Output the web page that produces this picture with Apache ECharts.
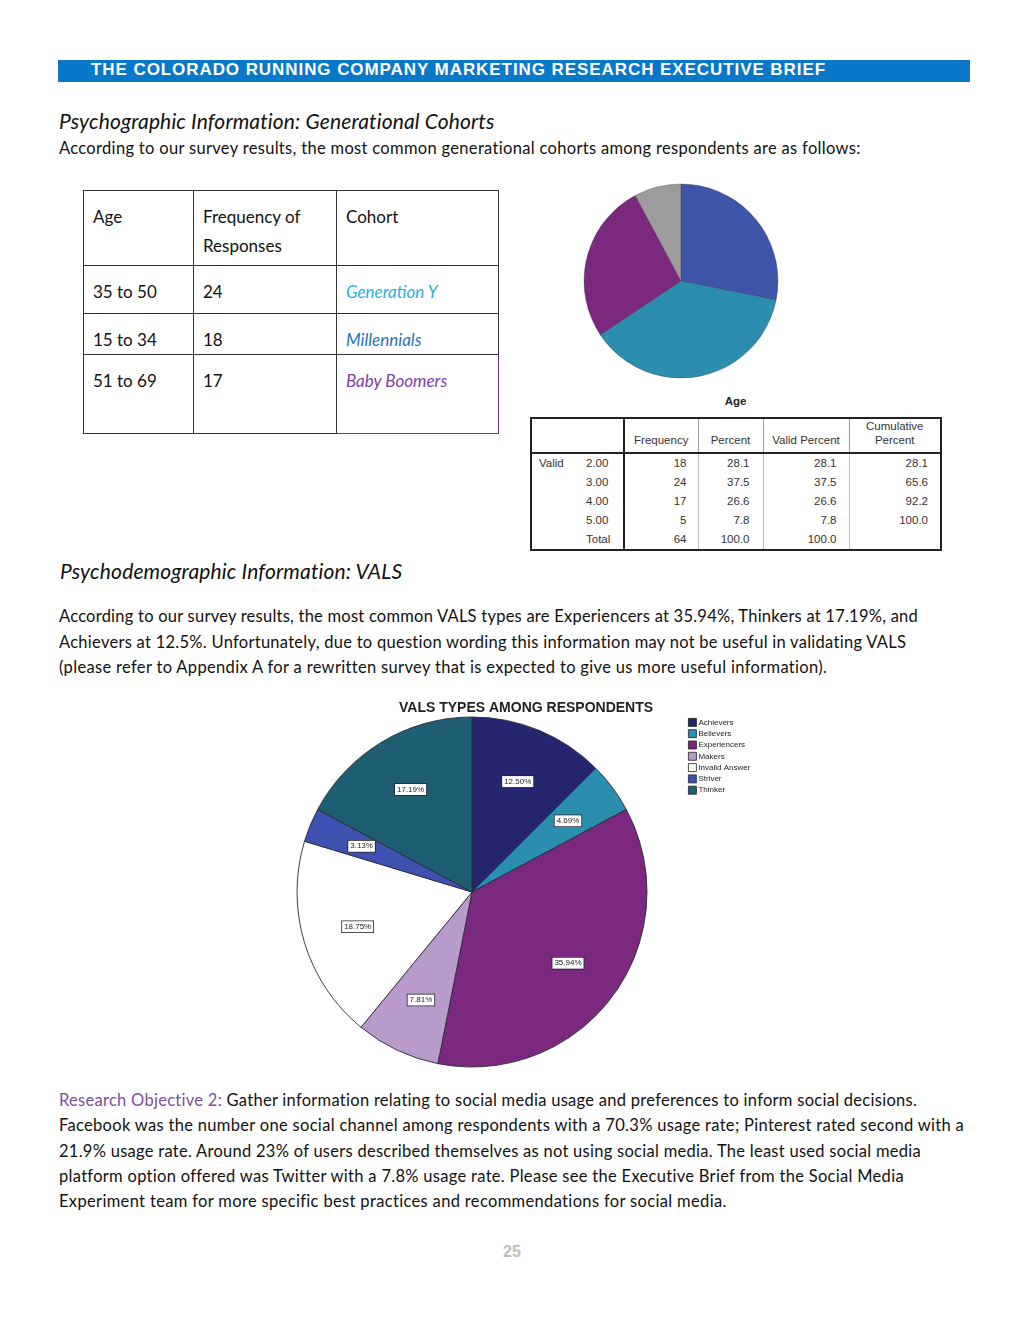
<!DOCTYPE html>
<html><head><meta charset="utf-8">
<script src="https://cdn.jsdelivr.net/npm/echarts@6/dist/echarts.min.js"></script>
<style>
html,body{margin:0;padding:0;background:#fff}
body{width:1024px;height:1326px;position:relative;overflow:hidden;font-family:Lato,'Open Sans',sans-serif;color:#111}
.ab{position:absolute;white-space:nowrap}
.line{font-size:16.5px;line-height:20px;height:20px}
.h2{font-size:21px;line-height:26px;font-style:italic}
#bar{left:58px;top:60px;width:912px;height:22px;background:#0A78C8}
#bartext{left:91px;top:60px;line-height:22px;color:#fff;font:bold 17px 'Liberation Sans',Arial,sans-serif}
table{border-collapse:collapse;table-layout:fixed}
#t1{left:83px;top:190px;font-size:17px}
#t1 td{border:1px solid #333;vertical-align:top;padding:11px 0 0 9px;line-height:29px;box-sizing:border-box}
#t2title{left:530px;width:411px;top:395px;text-align:center;font:bold 11.5px 'Liberation Sans',Arial,sans-serif;color:#222}
#t2{left:530px;top:417px;font:11.5px 'Liberation Sans',Arial,sans-serif;color:#333;border:2px solid #222}
#t2 td{padding:0;box-sizing:border-box;height:19px;line-height:19px}
#t2 .hd td{height:33px;vertical-align:bottom;line-height:14px;padding-bottom:5px;text-align:center;border-bottom:2px solid #222}
#t2 .num{text-align:right;padding-right:11px;border-left:1px solid #bbb}
#t2 .hd td.cb{border-left:1px solid #999}
#t2 .sep{border-left:2px solid #222 !important}
</style></head>
<body>
<div id="bar" class="ab"></div>
<div id="bartext" class="ab fit" data-w="735">THE COLORADO RUNNING COMPANY MARKETING RESEARCH EXECUTIVE BRIEF</div>

<div class="ab h2 fit" style="left:59px;top:108px" data-w="435">Psychographic Information: Generational Cohorts</div>
<div class="ab line fit" style="left:59px;top:138px" data-w="802">According to our survey results, the most common generational cohorts among respondents are as follows:</div>

<table id="t1" class="ab"><colgroup><col style="width:110px"><col style="width:143px"><col style="width:162px"></colgroup><tbody id="t1body"></tbody></table>

<div id="pieAge" class="ab" style="left:570px;top:180px;width:222px;height:206px"></div>

<div id="t2title" class="ab">Age</div>
<table id="t2" class="ab"><colgroup><col style="width:48px"><col style="width:45px"><col style="width:74px"><col style="width:65px"><col style="width:86px"><col style="width:92px"></colgroup><tbody id="t2body"></tbody></table>

<div class="ab h2 fit" style="left:60px;top:558px" data-w="342">Psychodemographic Information: VALS</div>
<div class="ab line fit" style="left:59px;top:606px" data-w="859">According to our survey results, the most common VALS types are Experiencers at 35.94%, Thinkers at 17.19%, and</div>
<div class="ab line fit" style="left:59px;top:632px" data-w="848">Achievers at 12.5%. Unfortunately, due to question wording this information may not be useful in validating VALS</div>
<div class="ab line fit" style="left:59px;top:657px" data-w="768">(please refer to Appendix A for a rewritten survey that is expected to give us more useful information).</div>

<div id="pieVals" class="ab" style="left:290px;top:690px;width:500px;height:392px"></div>

<div class="ab line fit" style="left:59px;top:1090px" data-w="859"><span style="color:#7B4F9E">Research Objective 2:</span> Gather information relating to social media usage and preferences to inform social decisions.</div>
<div class="ab line fit" style="left:59px;top:1115px" data-w="905">Facebook was the number one social channel among respondents with a 70.3% usage rate; Pinterest rated second with a</div>
<div class="ab line fit" style="left:59px;top:1141px" data-w="862">21.9% usage rate. Around 23% of users described themselves as not using social media. The least used social media</div>
<div class="ab line fit" style="left:59px;top:1166px" data-w="844">platform option offered was Twitter with a 7.8% usage rate. Please see the Executive Brief from the Social Media</div>
<div class="ab line fit" style="left:59px;top:1191px" data-w="668">Experiment team for more specific best practices and recommendations for social media.</div>

<div class="ab" style="left:492px;width:40px;text-align:center;top:1243px;line-height:20px;font:bold 16px 'Liberation Sans',Arial,sans-serif;color:#BDBDBD">25</div>

<script>
// ---- Data ----
const cohortAges = ['35 to 50', '15 to 34', '51 to 69'];
const cohortFrequency = [24, 18, 17];
const cohortNames = ['Generation Y', 'Millennials', 'Baby Boomers'];

const ageLevels = ['2.00', '3.00', '4.00', '5.00'];
const ageFrequency = [18, 24, 17, 5];
const agePercent = [28.1, 37.5, 26.6, 7.8];
const ageValidPercent = [28.1, 37.5, 26.6, 7.8];
const ageCumulative = [28.1, 65.6, 92.2, 100.0];

const valsTypes = ['Achievers', 'Believers', 'Experiencers', 'Makers', 'Invalid Answer', 'Striver', 'Thinker'];
const valsPercent = [12.50, 4.69, 35.94, 7.81, 18.75, 3.13, 17.19];

// ---- Styles ----
const cohortColors = ['#2EAEE0', '#1E73BE', '#8041A8'];
const ageColors = ['#3F55A9', '#2B8EAE', '#7B287F', '#9C9C9C'];
const valsColors = ['#26266E', '#2A8FAE', '#7B2880', '#B89ACB', '#FFFFFF', '#3F51B0', '#1E5E72'];

// Table 1
(function () {
  const rowH = [48, 40, 79];
  let html = '<tr style="height:75px"><td>Age</td><td>Frequency of<br>Responses</td><td>Cohort</td></tr>';
  cohortAges.forEach((a, i) => {
    const purple = i === 2 ? ' style="border-color:#7030A0"' : '';
    html += '<tr style="height:' + rowH[i] + 'px"><td>' + a + '</td><td>' + cohortFrequency[i] +
      '</td><td' + purple + '><span style="color:' + cohortColors[i] + ';font-style:italic">' + cohortNames[i] + '</span></td></tr>';
  });
  document.getElementById('t1body').innerHTML = html;
})();

// Table 2 (SPSS Age)
(function () {
  const f = v => v.toFixed(1);
  let html = '<tr class="hd"><td colspan="2"></td><td class="sep">Frequency</td><td class="cb">Percent</td><td class="cb">Valid Percent</td><td class="cb">Cumulative<br>Percent</td></tr>';
  ageLevels.forEach((lv, i) => {
    html += '<tr><td style="padding-left:7px">' + (i === 0 ? 'Valid' : '') + '</td><td style="padding-left:7px">' + lv +
      '</td><td class="num sep">' + ageFrequency[i] + '</td><td class="num" style="padding-right:13px">' + f(agePercent[i]) +
      '</td><td class="num" style="padding-right:12px">' + f(ageValidPercent[i]) + '</td><td class="num" style="padding-right:12px">' + f(ageCumulative[i]) + '</td></tr>';
  });
  const tot = ageFrequency.reduce((a, b) => a + b, 0);
  html += '<tr><td></td><td style="padding-left:7px">Total</td><td class="num sep">' + tot +
    '</td><td class="num" style="padding-right:13px">100.0</td><td class="num" style="padding-right:12px">100.0</td><td class="num"></td></tr>';
  document.getElementById('t2body').innerHTML = html;
})();

// Age pie
const pieAge = echarts.init(document.getElementById('pieAge'), null, { renderer: 'canvas' });
pieAge.setOption({
  animation: false,
  series: [{
    type: 'pie', radius: [0, 97], center: [111, 101], startAngle: 90, clockwise: true,
    color: ageColors, silent: true,
    label: { show: false }, labelLine: { show: false },
    itemStyle: { borderColor: 'rgba(40,40,60,0.5)', borderWidth: 0.6 },
    data: ageLevels.map((n, i) => ({ name: n, value: ageFrequency[i] }))
  }]
});

// VALS pie
const pieVals = echarts.init(document.getElementById('pieVals'), null, { renderer: 'canvas' });
const valsData = valsTypes.map((n, i) => ({ name: n, value: valsPercent[i] }));
pieVals.setOption({
  animation: false,
  title: {
    text: 'VALS TYPES AMONG RESPONDENTS', left: 109, top: 11, padding: 0,
    textStyle: { fontSize: 14, fontWeight: 'bold', fontFamily: "'Liberation Sans', Arial, sans-serif", color: '#222' }
  },
  legend: {
    orient: 'vertical', left: 398, top: 28, padding: 0,
    itemWidth: 8, itemHeight: 8, itemGap: 2.5, icon: 'rect',
    selectedMode: false,
    data: valsTypes,
    itemStyle: { borderColor: '#222', borderWidth: 0.8 },
    textStyle: { fontSize: 8, lineHeight: 8, color: '#222', fontFamily: "'Liberation Sans', Arial, sans-serif", padding: [0, 0, 0, -3] }
  },
  series: [{
    type: 'pie', name: 'VALS', radius: [0, 175], center: [182, 202], startAngle: 90, clockwise: true,
    color: valsColors, silent: true,
    label: { show: false }, labelLine: { show: false },
    itemStyle: { borderColor: '#2a2a3a', borderWidth: 0.9 },
    data: valsData
  }, {
    type: 'pie', name: 'VALS labels', radius: [58, 175], center: [182, 202], startAngle: 90, clockwise: true,
    silent: true, z: 5,
    itemStyle: { color: 'rgba(0,0,0,0)', borderWidth: 0 },
    labelLine: { show: false },
    label: {
      show: true, position: 'inside',
      formatter: p => p.value.toFixed(2) + '%',
      fontSize: 8, fontFamily: "'Liberation Sans', Arial, sans-serif", color: '#222',
      backgroundColor: '#fff', borderColor: '#222', borderWidth: 0.8, padding: [2, 2, 1, 2]
    },
    data: valsData
  }]
});

// fit text lines to their measured widths in the reference
function fitLines() {
  document.querySelectorAll('.fit').forEach(el => {
    el.style.letterSpacing = '0px';
    const target = +el.dataset.w;
    const cur = el.getBoundingClientRect().width;
    const n = el.textContent.length;
    el.style.letterSpacing = ((target - cur) / n) + 'px';
  });
}
fitLines();
if (document.fonts && document.fonts.ready) document.fonts.ready.then(fitLines);
</script>
</body></html>
